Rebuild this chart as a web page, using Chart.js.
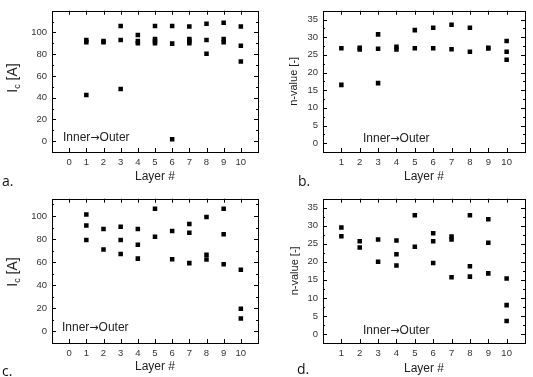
<!DOCTYPE html>
<html>
<head>
<meta charset="utf-8">
<script src="https://cdn.jsdelivr.net/npm/chart.js@4.4.1/dist/chart.umd.min.js"></script>
<style>
    body { margin: 0; background: #fff; width: 533px; height: 377px; position: relative; overflow: hidden; font-family: "Liberation Sans", Arial, sans-serif; }
    canvas { position: absolute; }
    .note { position: absolute; font-size: 12px; color: #222; white-space: nowrap; line-height: 14px; }
    .note span { font-family: "DejaVu Sans", sans-serif; font-size: 11px; }
    .tag { position: absolute; font-family: "Open Sans", sans-serif; font-size: 14px; color: #111; line-height: 16px; }
    .ylab { position: absolute; font-size: 14px; color: #222; white-space: nowrap; transform: translate(-50%, -50%) rotate(-90deg); }
    .ylab sub { font-size: 9px; }
</style>
</head>
<body>
<canvas id="chartA" width="266" height="188" style="left:0;top:0"></canvas>
<canvas id="chartB" width="267" height="188" style="left:266px;top:0"></canvas>
<canvas id="chartC" width="266" height="189" style="left:0;top:188px"></canvas>
<canvas id="chartD" width="267" height="189" style="left:266px;top:188px"></canvas>

<div class="ylab" style="left:13px;top:78px">I<sub>c</sub> [A]</div>
<div class="ylab" style="left:13px;top:272px">I<sub>c</sub> [A]</div>

<div class="note" style="left:63px;top:130px">Inner<span>→</span>Outer</div>
<div class="note" style="left:363px;top:131px">Inner<span>→</span>Outer</div>
<div class="note" style="left:62px;top:320px">Inner<span>→</span>Outer</div>
<div class="note" style="left:363px;top:323px">Inner<span>→</span>Outer</div>

<div class="tag" style="left:2px;top:173px">a.</div>
<div class="tag" style="left:298px;top:173px">b.</div>
<div class="tag" style="left:2px;top:363px">c.</div>
<div class="tag" style="left:297px;top:361px">d.</div>

<script>
// tick labels
const xTicksAC = [0, 1, 2, 3, 4, 5, 6, 7, 8, 9, 10];
const xTicksBD = [1, 2, 3, 4, 5, 6, 7, 8, 9, 10];
const yTicksIc = [0, 20, 40, 60, 80, 100];
const yTicksN = [0, 5, 10, 15, 20, 25, 30, 35];

// a. Ic per layer
const layersA = [1, 1, 1, 2, 2, 3, 3, 3, 4, 4, 4, 5, 5, 5, 5, 6, 6, 6, 7, 7, 7, 7, 8, 8, 8, 9, 9, 9, 10, 10, 10];
const icA = [93, 91, 42.5, 92, 91, 106, 93, 48, 97.7, 92, 90, 106, 94, 92, 90, 106, 89.7, 1.8, 105.5, 94, 92, 90, 108, 93, 80.4, 109, 94, 91, 105.5, 87.7, 73.3];

// b. n-value per layer
const layersB = [1, 1, 2, 2, 3, 3, 3, 4, 4, 5, 5, 6, 6, 7, 7, 8, 8, 9, 9, 10, 10, 10];
const nB = [26.9, 16.5, 27, 26.5, 30.8, 26.7, 17, 27.3, 26.5, 32, 26.9, 32.7, 26.9, 33.5, 26.6, 32.7, 25.9, 27, 26.8, 28.9, 25.9, 23.6];

// c. Ic per layer
const layersC = [1, 1, 1, 2, 2, 3, 3, 3, 4, 4, 4, 5, 5, 6, 6, 7, 7, 7, 8, 8, 8, 9, 9, 9, 10, 10, 10];
const icC = [101.4, 91.8, 79.2, 88.7, 71, 90.7, 79.2, 67, 88.7, 75.2, 63.1, 106.2, 82, 87, 62.5, 93, 85.6, 59.2, 99.2, 66.5, 62.3, 106.2, 84.2, 58.3, 53.5, 19.7, 11.3];

// d. n-value per layer
const layersD = [1, 1, 2, 2, 3, 3, 4, 4, 4, 5, 5, 6, 6, 6, 7, 7, 7, 8, 8, 8, 9, 9, 9, 10, 10, 10];
const nD = [29.5, 27.1, 25.7, 24, 26.2, 20, 25.9, 22.1, 19, 32.9, 24.2, 27.9, 25.7, 19.7, 27, 26.2, 15.7, 32.9, 18.8, 15.9, 31.8, 25.3, 16.8, 15.4, 8, 3.6];

const textColor = "#333";

// box around the plot with inward ticks on all sides (y gets minor ticks too)
const frameTicks = {
    id: "frameTicks",
    afterDraw(chart) {
        const { ctx, chartArea: a, scales: { x, y } } = chart;
        ctx.save();
        ctx.strokeStyle = "#000";
        ctx.lineWidth = 1;
        ctx.strokeRect(Math.round(a.left) + 0.5, Math.round(a.top) + 0.5,
            Math.round(a.right - a.left), Math.round(a.bottom - a.top));
        ctx.beginPath();
        x.ticks.forEach((t) => {
            const px = Math.round(x.getPixelForValue(t.value)) + 0.5;
            ctx.moveTo(px, a.bottom); ctx.lineTo(px, a.bottom - 4);
            ctx.moveTo(px, a.top); ctx.lineTo(px, a.top + 4);
        });
        const vals = y.ticks.map((t) => t.value);
        const half = (vals[1] - vals[0]) / 2;
        for (let v = vals[0] - 4 * half; v <= y.max; v += half) {
            if (v < y.min) continue;
            const py = Math.round(y.getPixelForValue(v)) + 0.5;
            const major = Math.abs(((v - vals[0]) / half) % 2) < 1e-6;
            const len = major ? 4 : 2;
            ctx.moveTo(a.left, py); ctx.lineTo(a.left + len, py);
            ctx.moveTo(a.right, py); ctx.lineTo(a.right - len, py);
        }
        ctx.stroke();
        ctx.restore();
    }
};

function makePanel(id, layers, values, cfg) {
    const canvas = document.getElementById(id);
    const W = canvas.width;
    const H = canvas.height;
    const [left, top, right, bottom] = cfg.area;

    return new Chart(canvas, {
        type: "scatter",
        data: {
            datasets: [{
                data: layers.map((l, i) => ({ x: l, y: values[i] })),
                pointStyle: "rect",
                pointRadius: 3.2,
                borderWidth: 0,
                backgroundColor: "#000",
                borderColor: "#000"
            }]
        },
        options: {
            responsive: false,
            animation: false,
            layout: { padding: { left: 0, top: top, right: W - right, bottom: 0 } },
            plugins: { legend: { display: false }, tooltip: { enabled: false } },
            scales: {
                x: {
                    type: "linear",
                    min: cfg.xRange[0],
                    max: cfg.xRange[1],
                    afterBuildTicks: (s) => { s.ticks = cfg.xTicks.map((v) => ({ value: v })); },
                    afterFit: (s) => { s.height = H - bottom; },
                    grid: { display: false, drawTicks: false },
                    border: { display: false },
                    ticks: { color: textColor, font: { family: "Liberation Sans", size: 9.5 }, padding: 5, maxRotation: 0, autoSkip: false },
                    title: {
                        display: true,
                        text: "Layer #",
                        color: "#222",
                        font: { family: "Liberation Sans", size: 12 },
                        padding: { top: 0, bottom: cfg.xTitlePad }
                    }
                },
                y: {
                    min: cfg.yRange[0],
                    max: cfg.yRange[1],
                    afterBuildTicks: (s) => { s.ticks = cfg.yTicks.map((v) => ({ value: v })); },
                    afterFit: (s) => { s.width = left; },
                    grid: { display: false, drawTicks: false },
                    border: { display: false },
                    ticks: { color: textColor, font: { family: "Liberation Sans", size: 9.5 }, padding: 5 },
                    title: {
                        display: !!cfg.yTitle,
                        text: cfg.yTitle || "",
                        color: "#222",
                        font: { family: "Liberation Sans", size: 11 },
                        padding: { top: cfg.yTitlePad || 0, bottom: 0 }
                    }
                }
            }
        },
        plugins: [frameTicks]
    });
}

makePanel("chartA", layersA, icA, {
    area: [52, 4, 258, 152], xRange: [-1, 11], yRange: [-10, 120],
    xTicks: xTicksAC, yTicks: yTicksIc, xTitlePad: 4
});
makePanel("chartB", layersB, nB, {
    area: [57, 4, 259, 152], xRange: [0, 11], yRange: [-2.5, 37.5],
    xTicks: xTicksBD, yTicks: yTicksN, xTitlePad: 4, yTitle: "n-value [-]", yTitlePad: 21
});
makePanel("chartC", layersC, icC, {
    area: [52, 6, 258, 155], xRange: [-1, 11], yRange: [-10, 115],
    xTicks: xTicksAC, yTicks: yTicksIc, xTitlePad: 3
});
makePanel("chartD", layersD, nD, {
    area: [57, 5, 259, 155], xRange: [0, 11], yRange: [-2.5, 37.5],
    xTicks: xTicksBD, yTicks: yTicksN, xTitlePad: 1, yTitle: "n-value [-]", yTitlePad: 22
});
</script>
</body>
</html>
